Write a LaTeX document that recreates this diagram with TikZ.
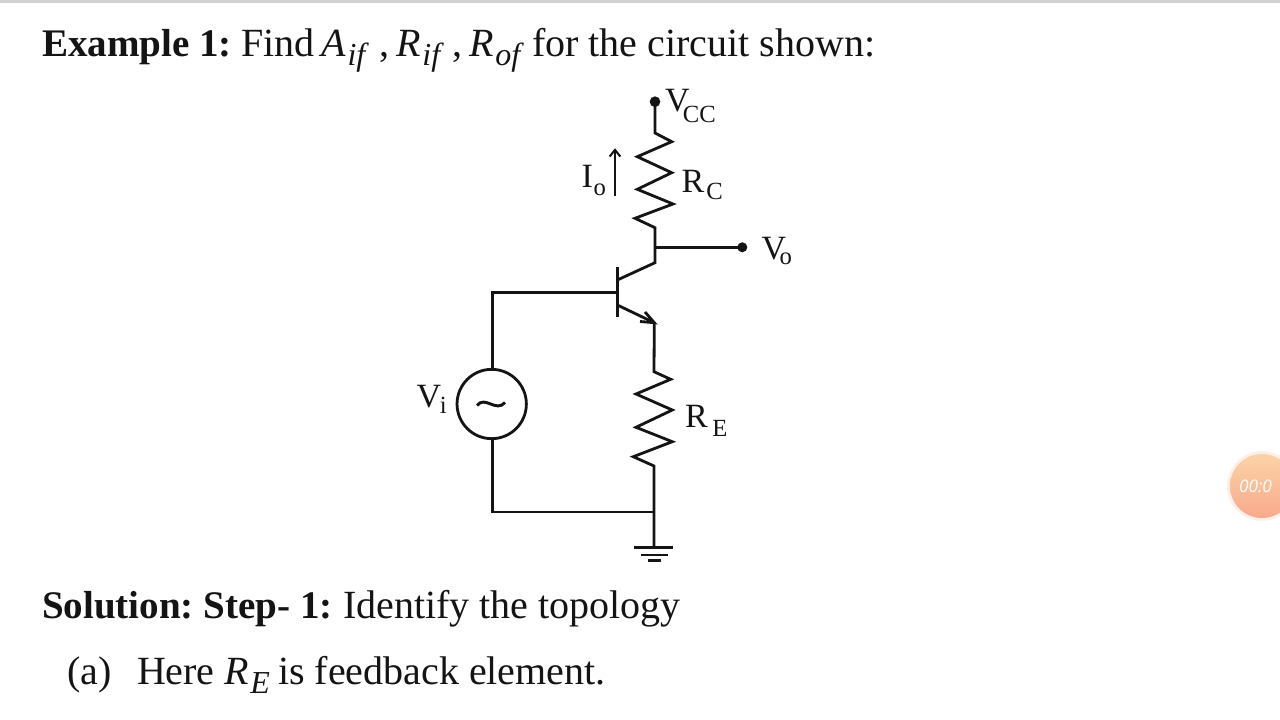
\documentclass[tikz,border=0pt]{standalone}
\usepackage{fontspec}
\setmainfont{Liberation Serif}
\newfontfamily\badgefont{Open Sans}
\usetikzlibrary{arrows.meta}
\definecolor{inkc}{HTML}{141414}
\definecolor{badgetop}{HTML}{FBD3A6}
\definecolor{badgebot}{HTML}{F9A98C}
\definecolor{badgehalo}{HTML}{FDF0EA}
\frenchspacing
\newcommand{\circlab}[4]{\fontsize{25.5}{25}\selectfont #1\kern #3pt\raisebox{-#4pt}{\fontsize{18.5}{18}\selectfont #2}}
\newcommand{\mathsym}[2]{\textit{#1}\kern1.5pt\raisebox{-6.5pt}{\fontsize{24}{24}\selectfont\textit{#2}}}
\tikzset{
  x=0.75pt,y=-0.75pt,
  wire/.style={draw=inkc,line width=2.1pt,line join=miter},
  term/.style={circle,fill=inkc,inner sep=0pt,minimum size=7.5pt},
  txt/.style={anchor=base west,inner sep=0pt,outer sep=0pt,text=inkc},
  big/.style={txt,font=\fontsize{30}{32}\selectfont},
  lab/.style={txt},
  pt/.style={inner sep=0pt,minimum size=0pt}
}
\begin{document}
\begin{tikzpicture}
\useasboundingbox (0,0) rectangle (1280,720);
\fill[white] (0,0) rectangle (1280,720);
\fill[black!18] (0,0) rectangle (1280,3);
% text
\node[big] (t1) at (42,56.5) {\fontsize{29.3}{32}\selectfont\textbf{Example 1:}};
\node[big] (t2) at (241,56.5) {Find};
\node[big] (t3) at (321,56.5) {\mathsym{A}{if}};
\node[big] (t3c) at (379,56.5) {,};
\node[big] (t4) at (396,56.5) {\mathsym{R}{if}};
\node[big] (t4c) at (452,56.5) {,};
\node[big] (t5) at (469,56.5) {\mathsym{R}{of}};
\node[big] (t6) at (532,56.5) {for the circuit shown:};
\node[big] (s1) at (42,618.5) {\fontsize{29.3}{32}\selectfont\textbf{Solution: Step- 1:}};
\node[big] (s2) at (343,618.5) {Identify the topology};
\node[big] (a1) at (67,684.5) {(a)};
\node[big] (a2) at (137,684.5) {Here};
\node[big] (a3) at (224,684.5) {\mathsym{R}{E}};
\node[big] (a4) at (278,684.5) {is feedback element.};
% circuit points
\node[term,minimum size=8pt] (vcc) at (655,101.7) {};
\node[term] (vo) at (742.3,247.3) {};
\node[pt] (rct) at (655,133) {};
\node[pt] (rcb) at (655,227.7) {};
\node[pt] (cj) at (655,247.3) {};
\node[pt] (c) at (655,262.7) {};
\node[pt] (bc) at (617.3,280) {};
\node[pt] (bt) at (617.3,267.3) {};
\node[pt] (bb) at (617.3,317.3) {};
\node[pt] (bj) at (617.3,292.3) {};
\node[pt] (be) at (617.3,305) {};
\node[pt] (e) at (654.3,322.7) {};
\node[pt] (ret) at (654,371.7) {};
\node[pt] (reb) at (654,466) {};
\node[pt] (gj) at (654,512) {};
\node[pt] (g) at (654,547.3) {};
\node[pt] (lt) at (492.3,292.3) {};
\node[pt] (lb) at (492.3,512) {};
\node[circle,draw=inkc,line width=2.1pt,minimum size=52pt,inner sep=0pt,outer sep=0pt] (src) at (491.7,404) {};
% wires
\draw[wire] (vcc.center) -- (rct.center) -- (671.7,141.7) -- (637.3,156.7) -- (671.7,172.7) -- (637.3,189.3) -- (673,204) -- (635,218.3) -- (rcb.center) -- (c.center) -- (bc.center);
\draw[wire] (cj.center) -- (vo.center);
\draw[wire] (bt.center) -- (bb.center);
\draw[wire] (bj.center) -- (lt.center) -- (lt.center |- src.north);
\draw[wire] (be.center) -- (e.center);
\draw[wire] (640,321.5) -- (654.3,322.7) -- (645,312);
\draw[wire] (e.center) -- (ret.center) -- (670.7,379.3) -- (636,394) -- (672.3,410) -- (636,427.3) -- (672.3,441.7) -- (633.3,456.7) -- (reb.center) -- (g.center);
\draw[wire] (lb.center |- src.south) -- (lb.center) -- (gj.center);
\draw[wire] (634.3,547.3) -- (673.3,547.3);
\draw[wire] (641,555) -- (667.7,555);
\draw[wire,line width=2.4pt] (648.3,560.7) -- (660.7,560.7);
\draw[wire,line width=2.2pt] (477,405.5) .. controls (485,395) and (496,413) .. (505,402.5);
\coordinate (ioa) at (615,196);
\coordinate (iob) at (615,148.3);
\draw[draw=inkc,line width=1.5pt,-{Straight Barb[length=5pt,width=8pt]}] (ioa) -- (iob);
% labels
\node[lab] (lvcc) at (665,111.7) {\circlab{V}{CC}{-5}{8}};
\node[lab] (lio) at (581.7,187.3) {\circlab{I}{o}{0.5}{6}};
\node[lab] (lrc) at (681.7,192.7) {\circlab{R}{C}{1.5}{5}};
\node[lab] (lvo) at (761.7,259.3) {\circlab{V}{o}{-5}{4}};
\node[lab] (lvi) at (416.7,407.7) {\circlab{V}{i}{-1}{4}};
\node[lab] (lre) at (685,427.3) {\circlab{R}{E}{3.5}{7}};
% timer badge
\begin{scope}
\clip (1200,440) rectangle (1280,530);
\fill[badgehalo] (1262,486) circle (35);
\shade[top color=badgetop,bottom color=badgebot,draw=none] (1262,486) circle (32);
\node[txt,text=white,font=\badgefont\fontsize{13}{14}\selectfont\itshape] (timer) at (1239,492) {00:0};
\end{scope}
\end{tikzpicture}
\end{document}
